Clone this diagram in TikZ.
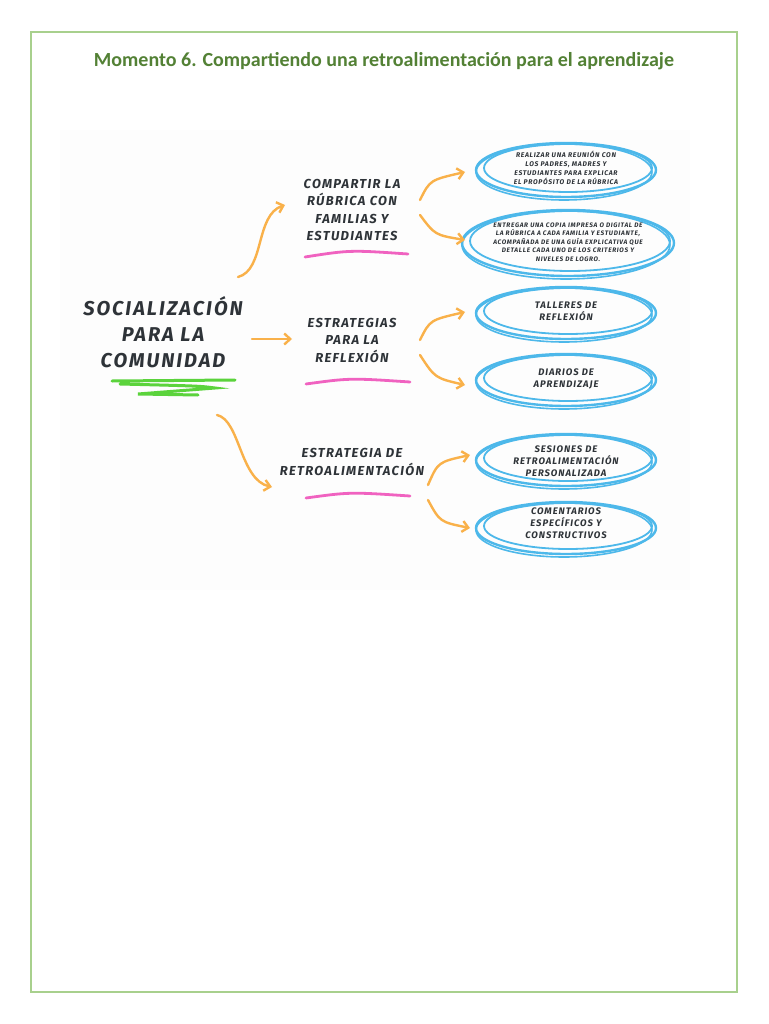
\documentclass[tikz,border=0pt]{standalone}
\usepackage{fontspec}
\setmainfont{Fira Sans}
\newfontfamily\titlefont{Carlito}
\newfontfamily\handfont[LetterSpace=10]{Fira Sans}
\usetikzlibrary{arrows.meta}
\definecolor{frame}{HTML}{A8D08D}
\definecolor{ttl}{HTML}{538135}
\definecolor{org}{HTML}{F9B14A}
\definecolor{blu}{HTML}{4DB8EA}
\definecolor{pnk}{HTML}{F062C0}
\definecolor{grn}{HTML}{5BD33C}
\definecolor{ink}{HTML}{2E3338}
\begin{document}
\begin{tikzpicture}[x=1pt,y=-1pt,
  arr/.style={org,line width=2.4pt,line cap=round,-{Straight Barb[length=6pt,width=11pt]}},
  hand/.style={font=\handfont\bfseries\itshape,text=ink,align=center},
  pk/.style={pnk,line width=2.8pt,line cap=round},
  ov/.style={blu,line width=2.4pt}]
\useasboundingbox (0,0) rectangle (768,1024);
\fill[white] (0,0) rectangle (768,1024);
\fill[black!0.6] (60,130) rectangle (690,590);
\draw[frame,line width=2.5pt] (31,32) rectangle (737,992);
\node[font=\titlefont\bfseries\fontsize{20}{24}\selectfont,text=ttl] (title) at (384,61) {Momento 6. Compartiendo una retroalimentación para el aprendizaje};
% main
\node[hand,font=\handfont\bfseries\itshape\fontsize{20}{26}\selectfont] (main) at (163,332) {SOCIALIZACIÓN\\PARA LA\\COMUNIDAD};
\draw[grn,line width=3pt,line cap=round] (112,381) -- (235,380) (120,384) .. controls (200,386) .. (215,388) -- (138,394) -- (198,395);
% branches
\node[hand,font=\handfont\bfseries\itshape\fontsize{13}{17.5}\selectfont] (b1) at (352,210) {COMPARTIR LA\\RÚBRICA CON\\FAMILIAS Y\\ESTUDIANTES};
\node[hand,font=\handfont\bfseries\itshape\fontsize{13}{17.5}\selectfont] (b2) at (352,340) {ESTRATEGIAS\\PARA LA\\REFLEXIÓN};
\node[hand,font=\handfont\bfseries\itshape\fontsize{13}{17.5}\selectfont] (b3) at (352,462) {ESTRATEGIA DE\\RETROALIMENTACIÓN};
\draw[pk] (305,257) .. controls (350,250) .. (408,254);
\draw[pk] (306,384) .. controls (350,378) .. (410,382);
\draw[pk] (306,498) .. controls (350,492) .. (410,496);
\coordinate (m1) at (238,277); \coordinate (m2) at (252,339); \coordinate (m3) at (217,415);
\coordinate (e1) at (285,205); \coordinate (e2) at (292,339); \coordinate (e3) at (272,487);
\draw[arr] (m1) .. controls (265,270) and (255,215) .. (e1);
\draw[arr] (m2) -- (e2);
\draw[arr] (m3) .. controls (240,420) and (240,480) .. (e3);
% ovals
\foreach \n/\x/\y/\rx/\ry in {o1/566/170/90/27, o2/568/243/106/33, o3/566/313/90/26, o4/566/380/90/26, o5/566/460/90/26, o6/566/528/90/26}{
  \draw[ov] (\x,\y) ellipse [x radius=\rx, y radius=\ry];
  \draw[ov,line width=1.8pt] (\x+2,\y-2) ellipse [x radius=\rx-6, y radius=\ry-3];
  \draw[ov,line width=1.6pt] (\x-2,\y+2) ellipse [x radius=\rx-2, y radius=\ry+1];
  \coordinate (\n) at (\x-\rx,\y);
}
\node[hand,font=\handfont\bfseries\itshape\fontsize{6.8}{8.8}\selectfont] (t1) at (566,168) {REALIZAR UNA REUNIÓN CON\\LOS PADRES, MADRES Y\\ESTUDIANTES PARA EXPLICAR\\EL PROPÓSITO DE LA RÚBRICA};
\node[hand,font=\handfont\bfseries\itshape\fontsize{6.5}{8.6}\selectfont] (t2) at (568,242) {ENTREGAR UNA COPIA IMPRESA O DIGITAL DE\\LA RÚBRICA A CADA FAMILIA Y ESTUDIANTE,\\ACOMPAÑADA DE UNA GUÍA EXPLICATIVA QUE\\DETALLE CADA UNO DE LOS CRITERIOS Y\\NIVELES DE LOGRO.};
\node[hand,font=\handfont\bfseries\itshape\fontsize{9.5}{12}\selectfont] (t3) at (566,311) {TALLERES DE\\REFLEXIÓN};
\node[hand,font=\handfont\bfseries\itshape\fontsize{9.5}{12}\selectfont] (t4) at (566,379) {DIARIOS DE\\APRENDIZAJE};
\node[hand,font=\handfont\bfseries\itshape\fontsize{9.5}{12}\selectfont] (t5) at (566,461) {SESIONES DE\\RETROALIMENTACIÓN\\PERSONALIZADA};
\node[hand,font=\handfont\bfseries\itshape\fontsize{9.5}{12}\selectfont] (t6) at (566,523) {COMENTARIOS\\ESPECÍFICOS Y\\CONSTRUCTIVOS};
% sub arrows
\coordinate (s1) at (420,200); \coordinate (s2) at (420,215);
\coordinate (s3) at (420,340); \coordinate (s4) at (420,355);
\coordinate (s5) at (428,485); \coordinate (s6) at (428,500);
\draw[arr] (s1) .. controls (430,180) .. (465,172);
\draw[arr] (s2) .. controls (435,235) .. (465,240);
\draw[arr] (s3) .. controls (430,320) .. (465,312);
\draw[arr] (s4) .. controls (435,378) .. (465,385);
\draw[arr] (s5) .. controls (438,462) .. (470,455);
\draw[arr] (s6) .. controls (440,522) .. (470,528);
\end{tikzpicture}
\end{document}
